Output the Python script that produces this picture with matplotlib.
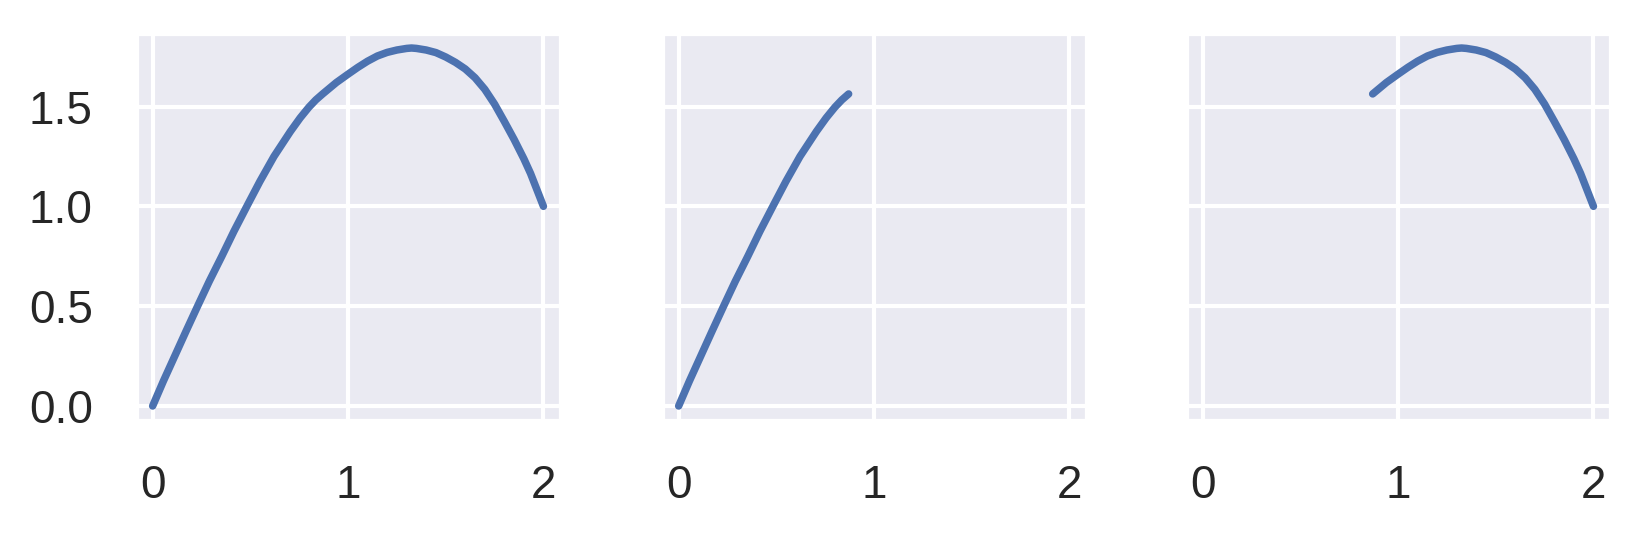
import matplotlib
matplotlib.use("Agg")
import matplotlib.pyplot as plt
import seaborn as sns

# curve values
x_vals = [0.0, 0.055, 0.113, 0.171, 0.23, 0.29, 0.354, 0.416, 0.482, 0.549,
          0.621, 0.705, 0.755, 0.80, 0.835, 0.87, 0.94, 1.0, 1.05, 1.1,
          1.15, 1.2, 1.25, 1.3, 1.325, 1.35, 1.4, 1.45, 1.5, 1.55,
          1.6, 1.65, 1.7, 1.75, 1.8, 1.85, 1.9, 1.934, 1.966, 2.0]
y_vals = [0.0, 0.125, 0.25, 0.375, 0.5, 0.625, 0.75, 0.875, 1.0, 1.125,
          1.25, 1.375, 1.443, 1.497, 1.533, 1.563, 1.620, 1.662, 1.696, 1.727,
          1.753, 1.771, 1.783, 1.791, 1.793, 1.791, 1.783, 1.770, 1.748, 1.721,
          1.688, 1.644, 1.586, 1.512, 1.425, 1.335, 1.238, 1.165, 1.085, 1.0]
split_at = 15  # index of the split point (0.87, 1.563)

x_ticks = [0, 1, 2]
y_ticks = [0.0, 0.5, 1.0, 1.5]

sns.set_theme(context="talk", style="darkgrid")
plt.rcParams["font.family"] = ["Liberation Sans", "DejaVu Sans"]
plt.rcParams["xtick.major.pad"] = 6.6
plt.rcParams["ytick.major.pad"] = 6.6

fig = plt.figure(figsize=(8.255, 2.68), dpi=200)
lefts = [0.0824, 0.401, 0.7184]
axes = []
for l in lefts:
    ax = fig.add_axes([l, 0.2146, 0.2574, 0.7245],
                      sharex=axes[0] if axes else None,
                      sharey=axes[0] if axes else None)
    axes.append(ax)

segments = [
    (x_vals, y_vals),
    (x_vals[:split_at + 1], y_vals[:split_at + 1]),
    (x_vals[split_at:], y_vals[split_at:]),
]
for ax, (xs, ys) in zip(axes, segments):
    ax.plot(xs, ys, color="#4C72B0", lw=2.7, solid_capstyle="round",
            solid_joinstyle="round")
    ax.set_xticks(x_ticks)
    ax.set_yticks(y_ticks)

axes[0].set_xlim(-0.085, 2.09)
axes[0].set_ylim(-0.075, 1.87)
for ax in axes[1:]:
    ax.tick_params(labelleft=False)

fig.savefig("out.png", dpi=200)
